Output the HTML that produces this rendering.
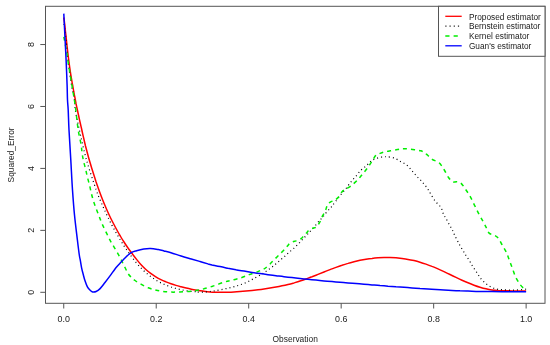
<!DOCTYPE html>
<html><head><meta charset="utf-8"><style>
html,body{margin:0;padding:0;background:#fff;}
svg{display:block;}
text{font-family:'Liberation Sans', Arial, Helvetica, sans-serif;font-size:8.4px;fill:#1a1a1a;}
.lg{font-size:8.3px;}
.tk{font-size:8.9px;}
</style></head><body>
<svg width="550" height="345" viewBox="0 0 550 345">
<rect x="45.5" y="6.3" width="499.5" height="297" fill="none" stroke="#555" stroke-width="1"/>
<line x1="63.74" y1="303.3" x2="63.74" y2="308.5" stroke="#555" stroke-width="1"/>
<text transform="translate(63.74,321.7) scale(1,1.1)" text-anchor="middle" class="tk">0.0</text>
<line x1="156.22" y1="303.3" x2="156.22" y2="308.5" stroke="#555" stroke-width="1"/>
<text transform="translate(156.22,321.7) scale(1,1.1)" text-anchor="middle" class="tk">0.2</text>
<line x1="248.70" y1="303.3" x2="248.70" y2="308.5" stroke="#555" stroke-width="1"/>
<text transform="translate(248.70,321.7) scale(1,1.1)" text-anchor="middle" class="tk">0.4</text>
<line x1="341.18" y1="303.3" x2="341.18" y2="308.5" stroke="#555" stroke-width="1"/>
<text transform="translate(341.18,321.7) scale(1,1.1)" text-anchor="middle" class="tk">0.6</text>
<line x1="433.66" y1="303.3" x2="433.66" y2="308.5" stroke="#555" stroke-width="1"/>
<text transform="translate(433.66,321.7) scale(1,1.1)" text-anchor="middle" class="tk">0.8</text>
<line x1="526.14" y1="303.3" x2="526.14" y2="308.5" stroke="#555" stroke-width="1"/>
<text transform="translate(526.14,321.7) scale(1,1.1)" text-anchor="middle" class="tk">1.0</text>
<line x1="40.3" y1="292.30" x2="45.5" y2="292.30" stroke="#555" stroke-width="1"/>
<text transform="translate(34.1,292.30) rotate(-90) scale(1,1.12)" text-anchor="middle" class="tk">0</text>
<line x1="40.3" y1="230.36" x2="45.5" y2="230.36" stroke="#555" stroke-width="1"/>
<text transform="translate(34.1,230.36) rotate(-90) scale(1,1.12)" text-anchor="middle" class="tk">2</text>
<line x1="40.3" y1="168.42" x2="45.5" y2="168.42" stroke="#555" stroke-width="1"/>
<text transform="translate(34.1,168.42) rotate(-90) scale(1,1.12)" text-anchor="middle" class="tk">4</text>
<line x1="40.3" y1="106.48" x2="45.5" y2="106.48" stroke="#555" stroke-width="1"/>
<text transform="translate(34.1,106.48) rotate(-90) scale(1,1.12)" text-anchor="middle" class="tk">6</text>
<line x1="40.3" y1="44.54" x2="45.5" y2="44.54" stroke="#555" stroke-width="1"/>
<text transform="translate(34.1,44.54) rotate(-90) scale(1,1.12)" text-anchor="middle" class="tk">8</text>
<text transform="translate(295.2,341.5) scale(1,1.08)" text-anchor="middle">Observation</text>
<text transform="translate(13.5,154.9) rotate(-90) scale(1,1.08)" text-anchor="middle">Squared_Error</text>
<path d="M63.7,17.5 C63.83,18.08 64.11,19.58 64.3,21.0 C64.49,22.42 64.69,24.17 64.9,26.0 C65.11,27.83 65.33,30.00 65.5,32.0 C65.77,34.00 65.98,36.00 66.2,38.0 C66.42,40.00 66.63,42.00 66.8,44.0 C67.07,46.00 67.28,48.00 67.5,50.0 C67.72,52.00 67.96,54.00 68.2,56.0 C68.44,58.00 68.68,60.00 69.0,62.0 C69.22,64.00 69.51,66.00 69.8,68.0 C70.09,70.00 70.39,72.00 70.7,74.0 C71.01,76.00 71.31,78.00 71.7,80.0 C71.99,82.00 72.38,84.00 72.8,86.0 C73.12,88.00 73.48,90.00 73.8,92.0 C74.22,94.00 74.59,96.00 75.0,98.0 C75.35,100.00 75.74,102.00 76.1,104.0 C76.54,106.00 76.95,108.00 77.4,110.0 C77.79,112.00 78.22,114.00 78.7,116.0 C79.09,118.00 79.53,120.00 80.0,122.0 C80.43,124.00 80.92,126.00 81.4,128.0 C81.84,130.00 82.27,132.00 82.7,134.0 C83.17,136.00 83.62,138.00 84.1,140.0 C84.56,142.00 85.04,144.00 85.5,146.0 C86.04,148.00 86.56,150.00 87.1,152.0 C87.62,154.00 88.16,156.00 88.7,158.0 C89.28,160.00 89.86,162.00 90.5,164.0 C91.05,166.00 91.66,168.00 92.3,170.0 C92.92,172.00 93.58,174.00 94.2,176.0 C94.86,178.00 95.48,180.00 96.1,182.0 C96.80,184.00 97.49,186.00 98.2,188.0 C98.91,190.00 99.63,192.00 100.4,194.0 C101.13,196.00 101.91,198.00 102.7,200.0 C103.51,202.00 104.33,204.00 105.2,206.0 C106.03,208.00 106.89,210.00 107.8,212.0 C108.71,214.00 109.64,216.00 110.6,218.0 C111.60,220.00 112.62,222.00 113.7,224.0 C114.70,226.00 115.76,228.00 116.9,230.0 C117.96,232.00 119.08,234.00 120.3,236.0 C121.44,238.00 122.66,240.00 124.0,242.0 C125.24,244.00 126.56,245.97 128.0,248.0 C129.44,250.03 131.17,252.30 132.6,254.2 C134.03,256.10 135.27,257.73 136.6,259.4 C137.93,261.07 139.10,262.57 140.6,264.2 C142.10,265.83 143.92,267.67 145.6,269.2 C147.28,270.73 149.00,272.12 150.7,273.4 C152.40,274.68 154.10,275.85 155.8,276.9 C157.50,277.95 159.20,278.87 160.9,279.7 C162.60,280.53 164.32,281.22 166.0,281.9 C167.68,282.58 169.33,283.22 171.0,283.8 C172.67,284.38 174.32,284.90 176.0,285.4 C177.68,285.90 179.40,286.35 181.1,286.8 C182.80,287.25 184.50,287.70 186.2,288.1 C187.90,288.50 189.50,288.85 191.3,289.2 C193.10,289.55 195.05,289.88 197.0,290.2 C198.95,290.52 200.83,290.81 203.0,291.1 C205.17,291.40 207.83,291.78 210.0,292.0 C212.17,292.16 214.00,292.18 216.0,292.2 C218.00,292.28 220.00,292.30 222.0,292.3 C224.00,292.28 226.00,292.24 228.0,292.2 C230.00,292.12 232.00,292.02 234.0,291.9 C236.00,291.80 238.00,291.66 240.0,291.5 C242.00,291.36 244.00,291.19 246.0,291.0 C248.00,290.81 250.00,290.61 252.0,290.4 C254.00,290.19 256.00,289.96 258.0,289.7 C260.00,289.48 262.00,289.22 264.0,288.9 C266.00,288.66 268.00,288.36 270.0,288.0 C272.00,287.72 274.00,287.38 276.0,287.0 C278.00,286.64 280.00,286.24 282.0,285.8 C284.00,285.38 286.00,284.92 288.0,284.4 C290.00,283.94 292.00,283.42 294.0,282.9 C296.00,282.28 298.00,281.67 300.0,281.0 C302.00,280.38 304.00,279.69 306.0,279.0 C308.00,278.27 310.00,277.51 312.0,276.8 C314.00,275.99 316.00,275.20 318.0,274.4 C320.00,273.62 322.00,272.81 324.0,272.0 C326.00,271.23 328.00,270.42 330.0,269.6 C332.00,268.88 334.00,268.11 336.0,267.4 C338.00,266.65 340.00,265.93 342.0,265.3 C344.00,264.59 346.00,263.96 348.0,263.4 C350.00,262.78 352.00,262.24 354.0,261.7 C356.00,261.23 358.00,260.76 360.0,260.3 C362.00,259.92 364.00,259.55 366.0,259.2 C368.00,258.89 370.00,258.61 372.0,258.4 C374.00,258.13 376.00,257.94 378.0,257.8 C380.00,257.66 382.00,257.56 384.0,257.5 C386.00,257.47 388.00,257.48 390.0,257.5 C392.00,257.58 394.00,257.69 396.0,257.8 C398.00,257.99 400.00,258.19 402.0,258.4 C404.00,258.71 406.00,259.02 408.0,259.4 C410.00,259.74 412.00,260.16 414.0,260.6 C416.00,261.10 418.00,261.63 420.0,262.2 C422.00,262.79 424.00,263.43 426.0,264.1 C428.00,264.81 430.00,265.57 432.0,266.4 C434.00,267.17 436.00,268.03 438.0,268.9 C440.00,269.79 442.00,270.72 444.0,271.6 C446.00,272.58 448.00,273.56 450.0,274.5 C452.00,275.46 454.00,276.44 456.0,277.4 C458.00,278.32 460.00,279.27 462.0,280.2 C464.00,281.09 466.00,281.98 468.0,282.8 C470.00,283.64 472.00,284.45 474.0,285.2 C476.00,285.93 478.00,286.62 480.0,287.2 C482.00,287.84 484.00,288.39 486.0,288.8 C488.00,289.29 490.00,289.66 492.0,289.9 C494.00,290.24 495.67,290.41 498.0,290.6 C500.33,290.69 503.00,290.74 506.0,290.8 C509.00,290.86 512.65,290.88 516.0,290.9 C519.35,290.92 524.42,290.90 526.1,290.9" fill="none" stroke="#ff0000" stroke-width="1.5" stroke-linejoin="round"/>
<path d="M63.9,24.0 C64.05,25.00 64.52,28.00 64.8,30.0 C65.08,32.00 65.30,33.50 65.6,36.0 C65.90,38.50 66.23,41.00 66.6,45.0 C66.97,49.00 66.98,53.33 67.8,60.0 C68.62,66.67 70.40,78.33 71.5,85.0 C72.60,91.67 73.77,95.83 74.4,100.0 C75.03,104.17 74.47,105.00 75.3,110.0 C76.13,115.00 77.53,121.67 79.4,130.0 C81.27,138.33 83.70,150.00 86.5,160.0 C89.30,170.00 93.95,183.40 96.2,190.0 C98.45,196.60 98.87,196.86 100.0,199.6 C101.13,202.38 102.00,204.31 103.0,206.6 C104.00,208.82 105.00,211.00 106.0,213.2 C107.00,215.30 108.00,217.41 109.0,219.4 C110.00,221.49 111.00,223.53 112.0,225.4 C113.00,227.31 114.00,229.06 115.0,230.8 C116.00,232.56 117.00,234.20 118.0,235.9 C119.00,237.62 120.00,239.40 121.0,241.1 C122.00,242.72 123.00,244.35 124.0,245.9 C125.00,247.43 126.00,248.88 127.0,250.3 C128.00,251.75 129.00,253.13 130.0,254.5 C131.00,255.87 132.00,257.21 133.0,258.5 C134.00,259.83 135.00,261.14 136.0,262.4 C137.00,263.60 138.00,264.77 139.0,265.9 C140.00,266.99 141.00,268.05 142.0,269.1 C143.00,270.05 144.00,271.00 145.0,271.9 C146.00,272.79 147.00,273.61 148.0,274.4 C149.00,275.24 150.00,276.06 151.0,276.8 C152.00,277.52 153.00,278.13 154.0,278.8 C155.00,279.43 156.00,280.09 157.0,280.7 C158.00,281.29 159.00,281.87 160.0,282.4 C161.00,282.91 162.00,283.38 163.0,283.8 C164.00,284.30 165.00,284.77 166.0,285.2 C167.00,285.59 168.00,285.94 169.0,286.3 C170.00,286.66 171.00,287.00 172.0,287.3 C173.00,287.64 174.00,287.94 175.0,288.2 C176.00,288.50 177.00,288.76 178.0,289.0 C179.00,289.24 180.00,289.46 181.0,289.7 C182.00,289.88 183.00,290.09 184.0,290.3 C185.00,290.49 186.00,290.72 187.0,290.9 C188.00,291.02 189.00,291.12 190.0,291.2 C191.00,291.33 192.00,291.42 193.0,291.5 C194.00,291.58 195.43,291.62 196.0,291.7 C196.57,291.82 194.73,292.07 196.4,292.1 C198.07,292.13 203.23,292.07 206.0,291.9 C208.77,291.73 210.52,291.47 213.0,291.1 C215.48,290.73 218.00,290.27 220.9,289.7 C223.80,289.13 227.43,288.43 230.4,287.7 C233.37,286.97 236.02,286.18 238.7,285.3 C241.38,284.42 243.97,283.53 246.5,282.4 C249.03,281.27 251.43,279.83 253.9,278.5 C256.37,277.17 259.52,275.42 261.3,274.4 C263.08,273.38 263.47,273.17 264.6,272.4 C265.73,271.63 266.93,270.63 268.1,269.8 C269.27,268.97 270.47,268.23 271.6,267.4 C272.73,266.57 273.85,265.67 274.9,264.8 C275.95,263.93 276.83,263.12 277.9,262.2 C278.97,261.28 280.22,260.22 281.3,259.3 C282.38,258.38 283.37,257.63 284.4,256.7 C285.43,255.77 286.48,254.63 287.5,253.7 C288.52,252.77 289.40,252.03 290.5,251.1 C291.60,250.17 293.02,249.08 294.1,248.1 C295.18,247.12 296.08,246.10 297.0,245.2 C297.92,244.30 298.70,243.63 299.6,242.7 C300.50,241.77 301.42,240.67 302.4,239.6 C303.38,238.53 304.50,237.35 305.5,236.3 C306.50,235.25 307.40,234.37 308.4,233.3 C309.40,232.23 310.13,231.43 311.5,229.9 C312.87,228.37 315.27,225.67 316.6,224.1 C317.93,222.53 318.53,221.58 319.5,220.5 C320.47,219.42 321.55,218.57 322.4,217.6 C323.25,216.63 323.75,215.78 324.6,214.7 C325.45,213.62 326.53,212.18 327.5,211.1 C328.47,210.02 329.57,209.17 330.4,208.2 C331.23,207.23 331.67,206.38 332.5,205.3 C333.33,204.22 334.12,203.37 335.4,201.7 C336.68,200.03 338.53,197.37 340.2,195.3 C341.87,193.23 343.67,191.47 345.4,189.3 C347.13,187.13 348.87,184.47 350.6,182.3 C352.33,180.13 354.07,178.32 355.8,176.3 C357.53,174.28 359.25,171.95 361.0,170.2 C362.75,168.45 364.70,167.25 366.3,165.8 C367.90,164.35 369.17,162.65 370.6,161.5 C372.03,160.35 373.32,159.60 374.9,158.9 C376.48,158.20 378.50,157.65 380.1,157.3 C381.70,156.95 383.35,156.88 384.5,156.8 C385.65,156.72 385.72,156.70 387.0,156.8 C388.28,156.90 390.62,157.02 392.2,157.4 C393.78,157.78 395.20,158.47 396.5,159.1 C397.80,159.73 398.85,160.57 400.0,161.2 C401.15,161.83 402.25,162.23 403.4,162.9 C404.55,163.57 405.88,164.38 406.9,165.2 C407.92,166.02 408.63,166.85 409.5,167.8 C410.37,168.75 411.23,169.88 412.1,170.9 C412.97,171.92 413.83,172.92 414.7,173.9 C415.57,174.88 416.28,175.73 417.3,176.8 C418.32,177.87 419.78,179.20 420.8,180.3 C421.82,181.40 422.53,182.37 423.4,183.4 C424.27,184.43 425.13,185.35 426.0,186.5 C426.87,187.65 427.83,189.08 428.6,190.3 C429.37,191.52 429.47,191.95 430.6,193.8 C431.73,195.65 433.68,199.15 435.4,201.4 C437.12,203.65 439.55,205.15 440.9,207.3 C442.25,209.45 442.63,212.42 443.5,214.3 C444.37,216.18 445.10,216.82 446.1,218.6 C447.10,220.38 448.48,223.18 449.5,225.0 C450.52,226.82 451.35,227.83 452.2,229.5 C453.05,231.17 453.42,232.53 454.6,235.0 C455.78,237.47 457.75,241.47 459.3,244.3 C460.85,247.13 462.73,250.05 463.9,252.0 C465.07,253.95 465.37,254.53 466.3,256.0 C467.23,257.47 468.48,259.15 469.5,260.8 C470.52,262.45 471.43,264.32 472.4,265.9 C473.37,267.48 474.33,268.85 475.3,270.3 C476.27,271.75 477.23,273.15 478.2,274.6 C479.17,276.05 480.02,277.67 481.1,279.0 C482.18,280.33 483.48,281.52 484.7,282.6 C485.92,283.68 487.07,284.65 488.4,285.5 C489.73,286.35 491.25,287.08 492.7,287.7 C494.15,288.32 495.38,288.87 497.1,289.2 C498.82,289.53 500.32,289.53 503.0,289.7 C505.68,289.87 509.57,290.27 513.2,290.2 C516.83,290.13 522.65,289.47 524.8,289.3 C526.95,289.13 525.88,289.22 526.1,289.2" fill="none" stroke="#000" stroke-width="1.2" stroke-dasharray="1,3" stroke-linejoin="round"/>
<path d="M63.8,36.8 C64.33,39.58 66.33,49.63 67.0,53.5 C67.67,57.37 66.98,54.75 67.8,60.0 C68.62,65.25 70.80,78.33 71.9,85.0 C73.00,91.67 73.75,95.83 74.4,100.0 C75.05,104.17 75.17,105.00 75.8,110.0 C76.43,115.00 77.32,124.23 78.2,130.0 C79.08,135.77 80.45,140.73 81.1,144.6 C81.75,148.47 81.68,150.42 82.1,153.2 C82.52,155.98 83.00,158.58 83.6,161.3 C84.20,164.02 85.08,166.93 85.7,169.5 C86.32,172.07 86.65,174.05 87.3,176.7 C87.95,179.35 88.92,182.60 89.6,185.4 C90.28,188.20 90.72,190.78 91.4,193.5 C92.08,196.22 92.83,198.98 93.7,201.7 C94.57,204.42 95.63,207.20 96.6,209.8 C97.57,212.40 98.55,214.88 99.5,217.3 C100.45,219.72 101.15,221.72 102.3,224.3 C103.45,226.88 105.05,230.03 106.4,232.8 C107.75,235.57 109.05,238.40 110.4,240.9 C111.75,243.40 113.13,245.48 114.5,247.8 C115.87,250.12 117.35,252.52 118.6,254.8 C119.85,257.08 120.93,259.38 122.0,261.5 C123.07,263.62 124.02,265.53 125.0,267.5 C125.98,269.47 126.93,271.73 127.9,273.3 C128.87,274.87 129.60,275.70 130.8,276.9 C132.00,278.10 133.42,279.30 135.1,280.5 C136.78,281.70 138.72,282.88 140.9,284.1 C143.08,285.32 145.78,286.83 148.2,287.8 C150.62,288.77 152.98,289.30 155.4,289.9 C157.82,290.50 160.03,291.03 162.7,291.4 C165.37,291.77 168.52,292.02 171.4,292.1 C174.28,292.18 176.65,292.07 180.0,291.9 C183.35,291.73 187.95,291.50 191.5,291.1 C195.05,290.70 197.77,290.32 201.3,289.5 C204.83,288.68 208.92,287.42 212.7,286.2 C216.48,284.98 220.83,283.18 224.0,282.2 C227.17,281.22 228.82,281.05 231.7,280.3 C234.58,279.55 238.40,278.65 241.3,277.7 C244.20,276.75 246.35,275.62 249.1,274.6 C251.85,273.58 255.57,272.45 257.8,271.6 C260.03,270.75 261.22,270.10 262.5,269.5 C263.78,268.90 264.20,268.97 265.5,268.0 C266.80,267.03 268.50,265.43 270.3,263.7 C272.10,261.97 274.35,259.55 276.3,257.6 C278.25,255.65 280.18,253.88 282.0,252.0 C283.82,250.12 285.93,247.70 287.2,246.3 C288.47,244.90 288.55,244.40 289.6,243.6 C290.65,242.80 292.42,241.95 293.5,241.5 C294.58,241.05 294.80,241.40 296.1,240.9 C297.40,240.40 300.15,239.20 301.3,238.5 C302.45,237.80 302.05,237.72 303.0,236.7 C303.95,235.68 306.05,233.43 307.0,232.4 C307.95,231.37 307.62,231.23 308.7,230.5 C309.78,229.77 312.27,228.55 313.5,228.0 C314.73,227.45 315.10,228.08 316.1,227.2 C317.10,226.32 318.45,224.53 319.5,222.7 C320.55,220.87 321.43,218.13 322.4,216.2 C323.37,214.27 324.58,212.68 325.3,211.1 C326.02,209.52 326.22,207.92 326.7,206.7 C327.18,205.48 327.47,204.63 328.2,203.8 C328.93,202.97 330.02,202.30 331.1,201.7 C332.18,201.10 333.50,200.93 334.7,200.2 C335.90,199.47 337.10,198.68 338.3,197.3 C339.50,195.92 340.70,193.25 341.9,191.9 C343.10,190.55 344.03,190.17 345.5,189.2 C346.97,188.23 348.75,187.57 350.7,186.1 C352.65,184.63 355.25,182.37 357.2,180.4 C359.15,178.43 360.67,176.40 362.4,174.3 C364.13,172.20 366.00,169.97 367.6,167.8 C369.20,165.63 370.63,163.37 372.0,161.3 C373.37,159.23 374.45,156.72 375.8,155.4 C377.15,154.08 378.65,153.98 380.1,153.4 C381.55,152.82 382.78,152.33 384.5,151.9 C386.22,151.47 388.25,151.20 390.4,150.8 C392.55,150.40 395.37,149.85 397.4,149.5 C399.43,149.15 400.58,148.78 402.6,148.7 C404.62,148.62 407.18,148.77 409.5,149.0 C411.82,149.23 414.62,149.80 416.5,150.1 C418.38,150.40 419.50,150.40 420.8,150.8 C422.10,151.20 423.15,151.75 424.3,152.5 C425.45,153.25 426.38,154.17 427.7,155.3 C429.02,156.43 430.30,158.05 432.2,159.3 C434.10,160.55 437.08,161.02 439.1,162.8 C441.12,164.58 442.70,167.50 444.3,170.0 C445.90,172.50 447.25,175.83 448.7,177.8 C450.15,179.77 451.70,181.13 453.0,181.8 C454.30,182.47 455.20,181.60 456.5,181.8 C457.80,182.00 459.22,181.63 460.8,183.0 C462.38,184.37 464.40,187.68 466.0,190.0 C467.60,192.32 468.95,194.30 470.4,196.9 C471.85,199.50 473.25,202.70 474.7,205.6 C476.15,208.50 477.65,211.55 479.1,214.3 C480.55,217.05 482.17,219.82 483.4,222.1 C484.63,224.38 485.55,226.17 486.5,228.0 C487.45,229.83 487.82,231.92 489.1,233.1 C490.38,234.28 492.67,234.25 494.2,235.1 C495.73,235.95 496.95,236.50 498.3,238.2 C499.65,239.90 500.95,242.93 502.3,245.3 C503.65,247.67 505.22,249.87 506.4,252.4 C507.58,254.93 508.38,257.80 509.4,260.5 C510.42,263.20 511.48,265.90 512.5,268.6 C513.52,271.30 514.32,274.17 515.5,276.7 C516.68,279.23 518.25,281.87 519.6,283.8 C520.95,285.73 522.57,287.35 523.6,288.3 C524.63,289.25 525.43,289.30 525.8,289.5" fill="none" stroke="#00ee00" stroke-width="1.5" stroke-dasharray="4,4" stroke-linejoin="round"/>
<path d="M63.8,13.6 C64.02,18.00 64.72,32.27 65.1,40.0 C65.48,47.73 65.77,52.50 66.1,60.0 C66.43,67.50 66.87,78.33 67.1,85.0 C67.33,91.67 67.32,95.83 67.5,100.0 C67.68,104.17 67.95,105.00 68.2,110.0 C68.45,115.00 68.57,121.67 69.0,130.0 C69.43,138.33 70.22,150.00 70.8,160.0 C71.38,170.00 71.88,180.83 72.5,190.0 C73.12,199.17 73.68,206.67 74.5,215.0 C75.32,223.33 76.60,233.33 77.4,240.0 C78.20,246.67 78.80,251.53 79.3,255.0 C79.80,258.47 80.02,258.67 80.4,260.8 C80.78,262.93 81.12,265.48 81.6,267.8 C82.08,270.12 82.72,272.48 83.3,274.7 C83.88,276.92 84.42,279.07 85.1,281.1 C85.78,283.13 86.63,285.45 87.4,286.9 C88.17,288.35 88.83,288.97 89.7,289.8 C90.57,290.63 91.53,291.62 92.6,291.9 C93.67,292.18 94.85,292.05 96.1,291.5 C97.35,290.95 98.65,290.05 100.1,288.6 C101.55,287.15 103.15,284.92 104.8,282.8 C106.45,280.68 108.30,278.20 110.0,275.9 C111.70,273.60 113.67,270.73 115.0,269.0 C116.33,267.27 116.33,267.33 118.0,265.5 C119.67,263.67 122.87,260.10 125.0,258.0 C127.13,255.90 128.87,254.12 130.8,252.9 C132.73,251.68 134.43,251.35 136.6,250.7 C138.77,250.05 141.48,249.37 143.8,249.0 C146.12,248.63 148.08,248.40 150.5,248.5 C152.92,248.60 156.05,249.20 158.3,249.6 C160.55,250.00 161.88,250.38 164.0,250.9 C166.12,251.42 168.15,251.85 171.0,252.7 C173.85,253.55 177.72,254.95 181.1,256.0 C184.48,257.05 188.15,258.08 191.3,259.0 C194.45,259.92 197.22,260.69 200.0,261.5 C202.78,262.31 206.00,263.29 208.0,263.9 C210.00,264.41 210.00,264.40 212.0,264.9 C214.00,265.32 217.33,266.06 220.0,266.6 C222.67,267.20 225.33,267.74 228.0,268.3 C230.67,268.78 233.33,269.28 236.0,269.8 C238.67,270.24 241.33,270.70 244.0,271.1 C246.67,271.60 249.33,272.03 252.0,272.4 C254.67,272.85 257.33,273.25 260.0,273.6 C262.67,274.01 265.33,274.37 268.0,274.7 C270.67,275.09 273.33,275.44 276.0,275.8 C278.67,276.10 281.33,276.43 284.0,276.7 C286.67,277.05 289.33,277.35 292.0,277.6 C294.67,277.94 297.33,278.23 300.0,278.5 C302.67,278.79 305.33,279.06 308.0,279.3 C310.67,279.60 313.33,279.86 316.0,280.1 C318.67,280.37 321.33,280.61 324.0,280.9 C326.67,281.11 329.33,281.35 332.0,281.6 C334.67,281.83 337.33,282.06 340.0,282.3 C342.67,282.52 345.33,282.75 348.0,283.0 C350.67,283.20 353.33,283.42 356.0,283.6 C358.67,283.86 361.33,284.08 364.0,284.3 C366.67,284.50 369.33,284.71 372.0,284.9 C374.67,285.13 377.33,285.34 380.0,285.6 C382.67,285.76 385.33,285.96 388.0,286.2 C390.67,286.36 393.33,286.56 396.0,286.8 C398.67,286.96 401.33,287.15 404.0,287.3 C406.67,287.53 409.33,287.72 412.0,287.9 C414.67,288.10 417.33,288.28 420.0,288.5 C422.67,288.64 425.33,288.81 428.0,289.0 C430.67,289.15 433.33,289.32 436.0,289.5 C438.67,289.64 441.33,289.79 444.0,289.9 C446.67,290.09 449.33,290.24 452.0,290.4 C454.67,290.50 457.33,290.63 460.0,290.8 C462.67,290.87 465.33,290.99 468.0,291.1 C470.67,291.19 473.33,291.28 476.0,291.4 C478.67,291.44 481.33,291.50 484.0,291.6 C486.67,291.60 489.00,291.62 492.0,291.6 C495.00,291.68 498.33,291.70 502.0,291.7 C505.67,291.74 509.98,291.76 514.0,291.8 C518.02,291.78 524.08,291.80 526.1,291.8" fill="none" stroke="#0000ff" stroke-width="1.5" stroke-linejoin="round"/>
<rect x="438.5" y="6.3" width="106.5" height="50" fill="#fff" stroke="#555" stroke-width="1"/>
<line x1="445.3" y1="16.3" x2="461.7" y2="16.3" fill="none" stroke="#ff0000" stroke-width="1.3"/>
<text transform="translate(468.9,19.50) scale(1,1.0)" class="lg">Proposed estimator</text>
<line x1="445.3" y1="26.1" x2="461.7" y2="26.1" fill="none" stroke="#222" stroke-width="1.3" stroke-dasharray="1.2,3"/>
<text transform="translate(468.9,29.35) scale(1,1.0)" class="lg">Bernstein estimator</text>
<line x1="445.3" y1="36.0" x2="461.7" y2="36.0" fill="none" stroke="#00ee00" stroke-width="1.3" stroke-dasharray="4.2,4.1"/>
<text transform="translate(468.9,39.20) scale(1,1.0)" class="lg">Kernel estimator</text>
<line x1="445.3" y1="45.8" x2="461.7" y2="45.8" fill="none" stroke="#0000ff" stroke-width="1.3"/>
<text transform="translate(468.9,49.05) scale(1,1.0)" class="lg">Guan's estimator</text>
</svg>
</body></html>
